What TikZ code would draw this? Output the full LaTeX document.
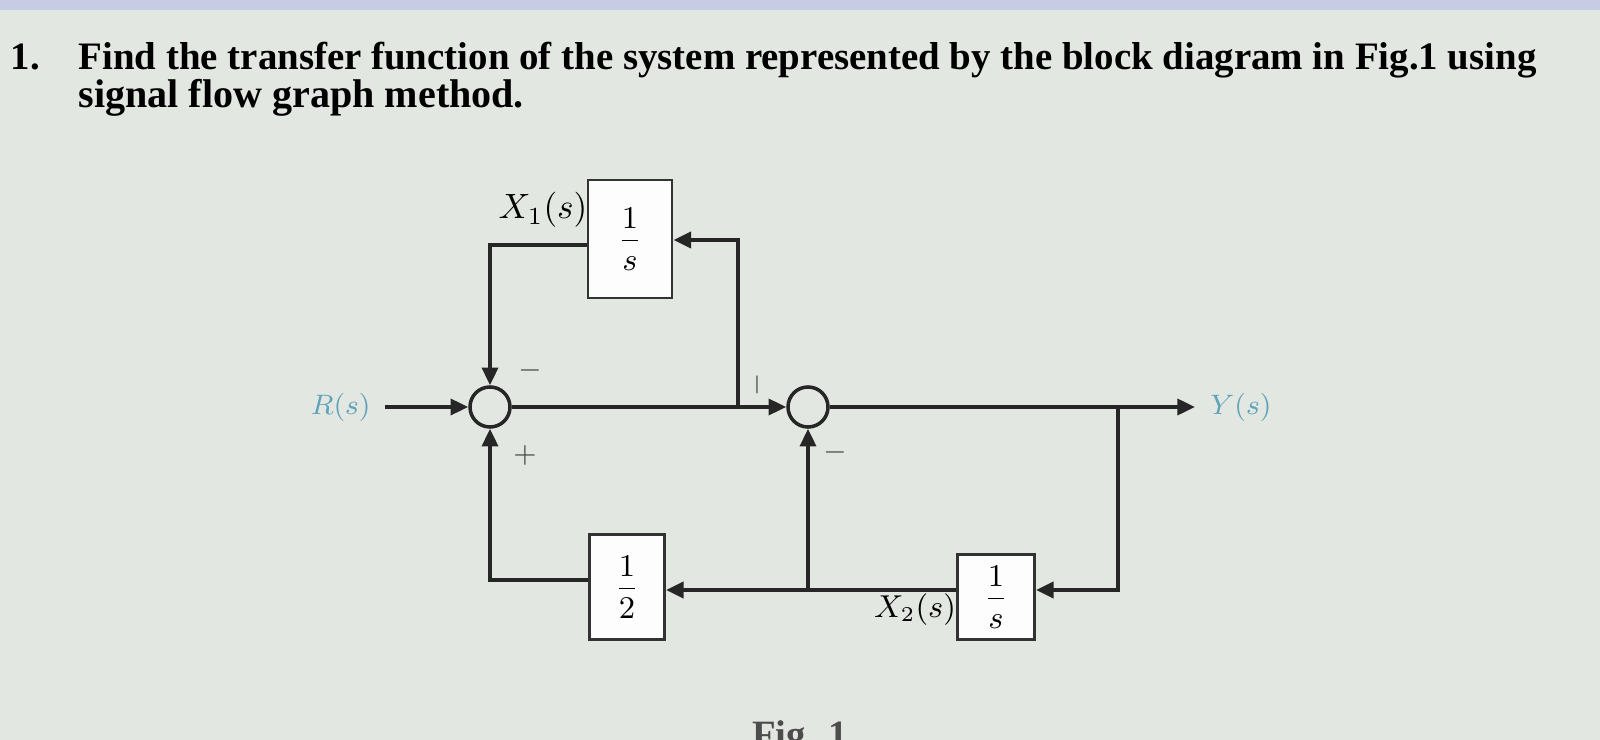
\documentclass[tikz,border=0pt]{standalone}
\usepackage{fontspec}
\setmainfont{Liberation Serif}
\usetikzlibrary{arrows.meta}
\definecolor{bg}{HTML}{E3E7E1}
\definecolor{lbl}{HTML}{5FA3BA}
\tikzset{
  wire/.style={line width=1.1pt,draw=black!85},
  arr/.style={wire,-{Triangle[length=5pt,width=4.5pt]}},
  blk/.style={draw=black!80,line width=0.8pt,fill=white!90!bg,inner sep=0pt},
  sum/.style={circle,draw=black!85,line width=1pt,minimum size=0.4cm,inner sep=0pt,fill=bg},
  sgn/.style={font=\fontsize{8}{8}\selectfont,text=black!70},
  frac/.style={font=\fontsize{9}{9}\selectfont},
}
\begin{document}
\begin{tikzpicture}[x=0.01cm,y=-0.01cm]
\useasboundingbox (0,0) rectangle (1600,740);
\fill[bg] (0,0) rectangle (1600,740);
\fill[blue!12!bg] (0,0) rectangle (1600,10);
\clip (0,0) rectangle (1600,740);
\node[anchor=base west,font=\fontsize{11}{11}\selectfont\bfseries,inner sep=0pt] (n1) at (10,70) {1.};
\node[anchor=base west,inner sep=0pt] (t1) at (78,70) {\resizebox{14.57cm}{!}{\fontsize{11}{11}\selectfont\bfseries Find the transfer function of the system represented by the block diagram in Fig.1 using}};
\node[anchor=base west,inner sep=0pt] (t2) at (78,108) {\resizebox{4.45cm}{!}{\fontsize{11}{11}\selectfont\bfseries signal flow graph method.}};
% blocks
\node[blk,minimum width=0.84cm,minimum height=1.18cm] (b1) at (630,239) {};
\node[frac] at (630,239) {$\displaystyle\frac{1}{s}$};
\node[blk,minimum width=0.75cm,minimum height=1.05cm] (b2) at (627,587) {};
\node[frac] at (627,587) {$\displaystyle\frac{1}{2}$};
\node[blk,minimum width=0.77cm,minimum height=0.85cm] (b3) at (996,597) {};
\node[frac] at (996,597) {$\displaystyle\frac{1}{s}$};
\node[sum] (s1) at (490,407) {};
\node[sum] (s2) at (808,407) {};
\coordinate (rin) at (385,407);
\coordinate (yout) at (1195,407);
\coordinate (p1) at (738,407);
\coordinate (p2) at (1118,407);
\node[text=lbl,font=\fontsize{8}{8}\selectfont,anchor=east] (R) at (383,407) {$R(s)$};
\node[text=lbl,font=\fontsize{8}{8}\selectfont,anchor=west] (Y) at (1198,407) {$Y(s)$};
\node[font=\fontsize{10}{10}\selectfont] (x1) at (543,210) {$X_1(s)$};
\node[font=\fontsize{9}{9}\selectfont] (x2) at (915,610) {$X_2(s)$};
% wires
\draw[arr] (rin) -- (s1.west);
\draw[arr] (s1.east) -- (s2.west);
\draw[arr] (s2.east) -- (yout);
\draw[arr] (p1) |- (b1.east |- 0,240);
\draw[arr] (b1.west |- 0,245) -| (s1.north);
\draw[arr] (p2) |- (b3.east |- 0,590);
\draw[wire] (b3.west |- 0,590) -- (808,590);
\draw[arr] (808,590) -- (s2.south);
\draw[arr] (808,590) -- (b2.east |- 0,590);
\draw[arr] (b2.west |- 0,580) -| (s1.south);
\node[sgn] at (530,370) {$-$};
\node[sgn] at (525,455) {$+$};
\node[sgn] at (835,452) {$-$};
\node[sgn,rotate=90] at (757,385) {$-$};
\node[font=\fontsize{11}{11}\selectfont\bfseries,text=black!70] (fig) at (800,738) {Fig. 1};
\end{tikzpicture}
\end{document}
